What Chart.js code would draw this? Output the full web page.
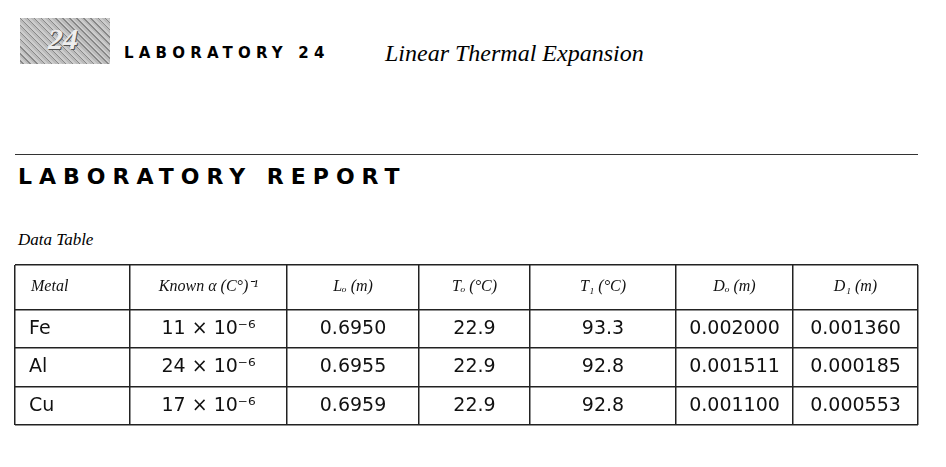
<!DOCTYPE html>
<html>
<head>
<meta charset="utf-8">
<script src="https://cdn.jsdelivr.net/npm/chart.js@4.4.0/dist/chart.umd.min.js"></script>
<style>
  body { margin: 0; background: #fff; width: 946px; height: 467px; position: relative; overflow: hidden; font-family: "Liberation Serif", serif; }
  .icon { position: absolute; left: 20px; top: 18px; width: 90px; height: 46px;
    background: repeating-linear-gradient(45deg, #bbb 0 2px, #888 2px 3px, #ccc 3px 5px); }
  .icon span { position: absolute; left: 28px; top: 4px; font: italic bold 30px "Liberation Serif"; color: #eee; text-shadow: 1px 1px 0 #555; }
  .lab { position: absolute; left: 124px; top: 44px; font: bold 15px "DejaVu Sans"; letter-spacing: 5.2px; }
  .title { position: absolute; left: 385px; top: 40px; font: italic 24px "Liberation Serif"; }
  .rule { position: absolute; left: 15px; top: 154px; width: 903px; border-top: 1.5px solid #333; }
  .report { position: absolute; left: 18px; top: 164px; font: bold 22px "DejaVu Sans"; letter-spacing: 7px; }
  .dt { position: absolute; left: 18px; top: 230px; font: italic 17px "Liberation Serif"; }
  #wrap { position: absolute; left: 14px; top: 264px; width: 905px; height: 162px; }
</style>
</head>
<body>
<div class="icon"><span>24</span></div>
<div class="lab">LABORATORY 24</div>
<div class="title">Linear Thermal Expansion</div>
<div class="rule"></div>
<div class="report">LABORATORY REPORT</div>
<div class="dt">Data Table</div>
<div id="wrap"><canvas id="tbl"></canvas></div>
<script>
// Table contents
const headers = ['Metal', 'Known \u03b1 (C\u00b0)\u207b\u00b9', 'L\u2092 (m)', 'T\u2092 (\u00b0C)', 'T\u2081 (\u00b0C)', 'D\u2092 (m)', 'D\u2081 (m)'];
const metals = ['Fe', 'Al', 'Cu'];
const knownAlpha = ['11 \u00d7 10\u207b\u2076', '24 \u00d7 10\u207b\u2076', '17 \u00d7 10\u207b\u2076'];
const L0 = ['0.6950', '0.6955', '0.6959'];
const T0 = ['22.9', '22.9', '22.9'];
const T1 = ['93.3', '92.8', '92.8'];
const D0 = ['0.002000', '0.001511', '0.001100'];
const D1 = ['0.001360', '0.000185', '0.000553'];

// cell boundaries
const colEdges = [0, 115, 272, 404, 515, 661, 778, 903];
const rowEdges = [0, 44, 82, 120, 158];

const rows = metals.map((m, i) => [m, knownAlpha[i], L0[i], T0[i], T1[i], D0[i], D1[i]]);

document.addEventListener('DOMContentLoaded', function() {
    const cellText = {
        id: 'cellText',
        afterDraw(chart) {
            const ctx = chart.ctx, x = chart.scales.x, y = chart.scales.y;
            ctx.save();
            ctx.fillStyle = '#111';
            ctx.textBaseline = 'middle';
            const mid = (e, i, s) => (s.getPixelForValue(e[i]) + s.getPixelForValue(e[i + 1])) / 2;
            headers.forEach((h, c) => {
                ctx.font = 'italic 16px "Liberation Serif"';
                ctx.textAlign = c === 0 ? 'left' : 'center';
                const px = c === 0 ? x.getPixelForValue(colEdges[0]) + 16 : mid(colEdges, c, x);
                ctx.fillText(h, px, mid(rowEdges, 0, y));
            });
            rows.forEach((r, ri) => {
                r.forEach((v, c) => {
                    ctx.font = '19px "DejaVu Sans"';
                    ctx.textAlign = c === 0 ? 'left' : 'center';
                    const px = c === 0 ? x.getPixelForValue(colEdges[0]) + 14 : mid(colEdges, c, x);
                    ctx.fillText(v, px, mid(rowEdges, ri + 1, y));
                });
            });
            ctx.restore();
        }
    };

    new Chart(document.getElementById('tbl'), {
        type: 'scatter',
        data: { datasets: [{ data: [], pointRadius: 0 }] },
        options: {
            responsive: true,
            maintainAspectRatio: false,
            animation: false,
            layout: { padding: 1 },
            plugins: { legend: { display: false }, tooltip: { enabled: false } },
            scales: {
                x: {
                    type: 'linear', min: colEdges[0], max: colEdges[colEdges.length - 1],
                    afterBuildTicks: s => { s.ticks = colEdges.map(v => ({ value: v })); },
                    ticks: { display: false },
                    grid: { color: '#222', lineWidth: 1.5, drawTicks: false },
                    border: { display: false }
                },
                y: {
                    type: 'linear', reverse: true, min: rowEdges[0], max: rowEdges[rowEdges.length - 1],
                    afterBuildTicks: s => { s.ticks = rowEdges.map(v => ({ value: v })); },
                    ticks: { display: false },
                    grid: { color: '#222', lineWidth: 1.5, drawTicks: false },
                    border: { display: false }
                }
            }
        },
        plugins: [cellText]
    });
});
</script>
</body>
</html>
